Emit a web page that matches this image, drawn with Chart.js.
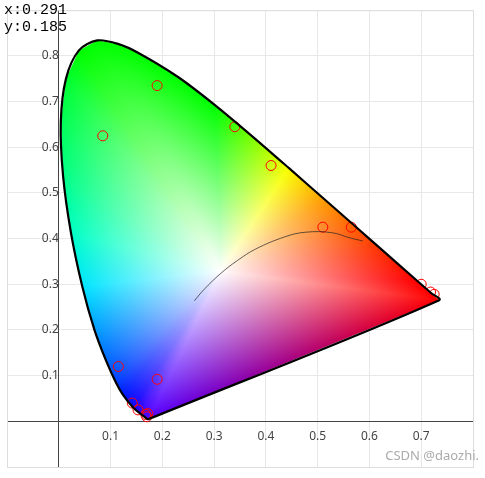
<!DOCTYPE html>
<html><head><meta charset="utf-8">
<script src="https://cdn.jsdelivr.net/npm/chart.js@4/dist/chart.umd.min.js"></script>
<style>
html,body{margin:0;padding:0;background:#fff;}
#wrap{position:relative;width:485px;height:478px;}
#tip{position:absolute;left:4px;top:2px;font:15px "Liberation Mono",monospace;line-height:17px;color:#000;}
#mark{position:absolute;right:6px;bottom:14px;font:13px "Noto Sans",sans-serif;color:#aaa;}
</style></head>
<body>
<div id="wrap">
<canvas id="c" width="485" height="478"></canvas>
<div id="tip">x:0.291<br>y:0.185</div>
<div id="mark">CSDN @daozhi.</div>
</div>
<script>
// spectral locus (x, y)
const locusX = [0.1741,0.1733,0.1714,0.1644,0.1566,0.1440,0.1241,0.1096,0.0913,0.0687,0.0454,0.0235,0.0082,0.0039,0.0139,0.0389,0.0743,0.1142,0.1547,0.2296,0.3016,0.3731,0.4441,0.5125,0.5752,0.6270,0.6915,0.7190,0.7347,0.1741];
const locusY = [0.0050,0.0048,0.0051,0.0109,0.0177,0.0297,0.0578,0.0868,0.1327,0.2007,0.2950,0.4127,0.5384,0.6548,0.7502,0.8120,0.8338,0.8262,0.8059,0.7543,0.6923,0.6245,0.5547,0.4866,0.4242,0.3725,0.3083,0.2809,0.2653,0.0050];
// white point at the centre of the shading
const whiteX = 0.3127, whiteY = 0.329;
// blackbody curve
const planckX = [0.262,0.28,0.313,0.345,0.38,0.437,0.477,0.527,0.564,0.587];
const planckY = [0.264,0.288,0.324,0.352,0.377,0.404,0.414,0.413,0.401,0.395];
// measured points
const ptX = [0.085,0.190,0.340,0.410,0.510,0.565,0.700,0.718,0.725,0.115,0.190,0.142,0.153,0.168,0.172,0.170];
const ptY = [0.625,0.735,0.645,0.560,0.425,0.425,0.300,0.283,0.278,0.120,0.092,0.040,0.025,0.015,0.017,0.010];
const xTickLabels = ['0.1','0.2','0.3','0.4','0.5','0.6','0.7'];
const yTickLabels = ['0.1','0.2','0.3','0.4','0.5','0.6','0.7','0.8'];

const zip = (a, b) => a.map((v, i) => ({x: v, y: b[i]}));

function xyToRgb(x, y) {
  const X = x / y, Z = (1 - x - y) / y;
  let r = 3.2406 * X - 1.5372 - 0.4986 * Z;
  let g = -0.9689 * X + 1.8758 + 0.0415 * Z;
  let b = 0.0557 * X - 0.2040 + 1.0570 * Z;
  r = Math.max(r, 0); g = Math.max(g, 0); b = Math.max(b, 0);
  const m = Math.max(r, g, b) || 1;
  return [r, g, b].map(v => 255 * Math.pow(v / m, 1 / 1.6));
}

// gouraud-style fan: white centre, saturated colour at each locus vertex
const gamutFill = {
  id: 'gamutFill',
  beforeDatasetsDraw(chart) {
    const {ctx, chartArea: a, scales: {x, y}} = chart;
    const w = Math.round(a.right - a.left), h = Math.round(a.bottom - a.top);
    const off = document.createElement('canvas');
    off.width = w; off.height = h;
    const octx = off.getContext('2d');
    const img = octx.createImageData(w, h);
    const cols = locusX.map((v, i) => xyToRgb(v, locusY[i]));
    const n = locusX.length - 1;
    for (let j = 0; j < h; j++) {
      const yv = y.getValueForPixel(a.top + j + 0.5);
      for (let i = 0; i < w; i++) {
        const xv = x.getValueForPixel(a.left + i + 0.5);
        const px = xv - whiteX, py = yv - whiteY;
        for (let s = 0; s < n; s++) {
          const ax = locusX[s] - whiteX, ay = locusY[s] - whiteY;
          const bx = locusX[s + 1] - whiteX, by = locusY[s + 1] - whiteY;
          const det = ax * by - ay * bx;
          if (Math.abs(det) < 1e-12) continue;
          const u = (px * by - py * bx) / det, t = (ax * py - ay * px) / det;
          if (u >= -1e-6 && t >= -1e-6) {
            const wgt = Math.max(1 - u - t, 0);
            const ca = cols[s], cb = cols[s + 1];
            const k = (j * w + i) * 4;
            img.data[k] = wgt * 255 + u * ca[0] + t * cb[0];
            img.data[k + 1] = wgt * 255 + u * ca[1] + t * cb[1];
            img.data[k + 2] = wgt * 255 + u * ca[2] + t * cb[2];
            img.data[k + 3] = 255;
            break;
          }
        }
      }
    }
    octx.putImageData(img, 0, 0);
    ctx.save();
    ctx.beginPath();
    locusX.forEach((v, i) => {
      const px = x.getPixelForValue(v), py = y.getPixelForValue(locusY[i]);
      i ? ctx.lineTo(px, py) : ctx.moveTo(px, py);
    });
    ctx.closePath();
    ctx.clip();
    ctx.drawImage(off, a.left, a.top);
    ctx.restore();
  }
};

new Chart(document.getElementById('c'), {
  type: 'scatter',
  data: {
    datasets: [
      {data: zip(locusX, locusY), showLine: true, borderColor: '#000', borderWidth: 2.2, pointRadius: 0, tension: 0.3},
      {data: zip(planckX, planckY), showLine: true, borderColor: '#222', borderWidth: 0.7, pointRadius: 0, tension: 0.4},
      {data: zip(ptX, ptY), pointStyle: 'circle', pointRadius: 5, borderColor: '#ff0000', borderWidth: 1, backgroundColor: 'transparent'}
    ]
  },
  options: {
    responsive: false,
    animation: false,
    layout: {padding: {left: 7, right: 12, top: 2, bottom: 11}},
    plugins: {legend: {display: false}, tooltip: {enabled: false}},
    scales: {
      x: {
        type: 'linear', min: -0.1, max: 0.8, position: {y: 0},
        grid: {color: '#e8e8e8', tickLength: 5, drawTicks: true},
        border: {color: '#444', width: 1},
        ticks: {stepSize: 0.1, color: '#444', font: {family: 'Noto Sans', size: 12},
          callback: v => { const s = v.toFixed(1); return xTickLabels.includes(s) ? s : ''; }}
      },
      y: {
        type: 'linear', min: -0.1, max: 0.9, position: {x: 0},
        grid: {color: '#e8e8e8', tickLength: 5},
        border: {color: '#444', width: 1},
        ticks: {stepSize: 0.1, color: '#444', font: {family: 'Noto Sans', size: 12},
          callback: v => { const s = v.toFixed(1); return yTickLabels.includes(s) ? s : ''; }}
      }
    }
  },
  plugins: [gamutFill, {
    id: 'frame',
    afterDraw(chart) {
      const {ctx, chartArea: a} = chart;
      ctx.save();
      ctx.strokeStyle = '#ddd';
      ctx.strokeRect(a.left + 0.5, a.top + 0.5, a.right - a.left, a.bottom - a.top);
      ctx.restore();
    }
  }]
});
</script>
</body></html>
